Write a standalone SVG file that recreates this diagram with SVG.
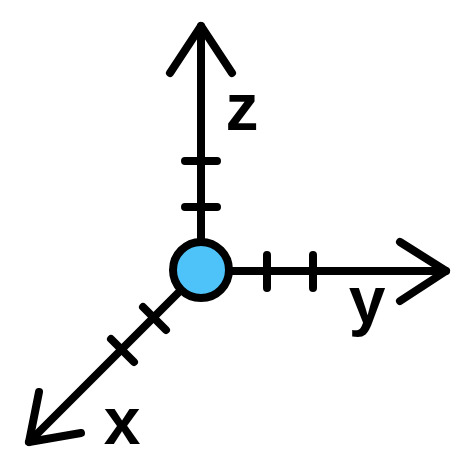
<svg xmlns="http://www.w3.org/2000/svg" width="474" height="474" viewBox="0 0 474 474">
<style>
.ax{fill:none;stroke:#000;stroke-width:8;stroke-linecap:round;stroke-linejoin:round}
.lbl{font-family:"Liberation Sans",Arial,sans-serif;font-weight:bold;font-size:66px;fill:#000;text-anchor:middle}
</style>
<rect width="474" height="474" fill="#fff"/>
<g id="connectors">
<g id="z-axis">
<path class="ax" d="M201,270 V26"/>
<path class="ax" d="M170,73 L201,26 L232,73"/>
<path class="ax" d="M185,161 H217 M185,207 H217"/>
</g>
<g id="y-axis">
<path class="ax" d="M201,271 H446"/>
<path class="ax" d="M400,242 L446,271 L400,301"/>
<path class="ax" d="M267,255 V288 M313,255 V288"/>
</g>
<g id="x-axis">
<path class="ax" d="M201,270 L29,442"/>
<path class="ax" d="M39,392 L29,442 L81,433"/>
<path class="ax" d="M143,307 L166,330 M111,339 L134,362"/>
</g>
</g>
<g id="origin">
<circle cx="201" cy="270" r="28" fill="#4dc3fa" stroke="#000" stroke-width="8"/>
</g>
<g id="labels">
<text class="lbl" x="242" y="130">z</text>
<text class="lbl" x="367" y="323">y</text>
<text class="lbl" x="122" y="444">x</text>
</g>
</svg>
